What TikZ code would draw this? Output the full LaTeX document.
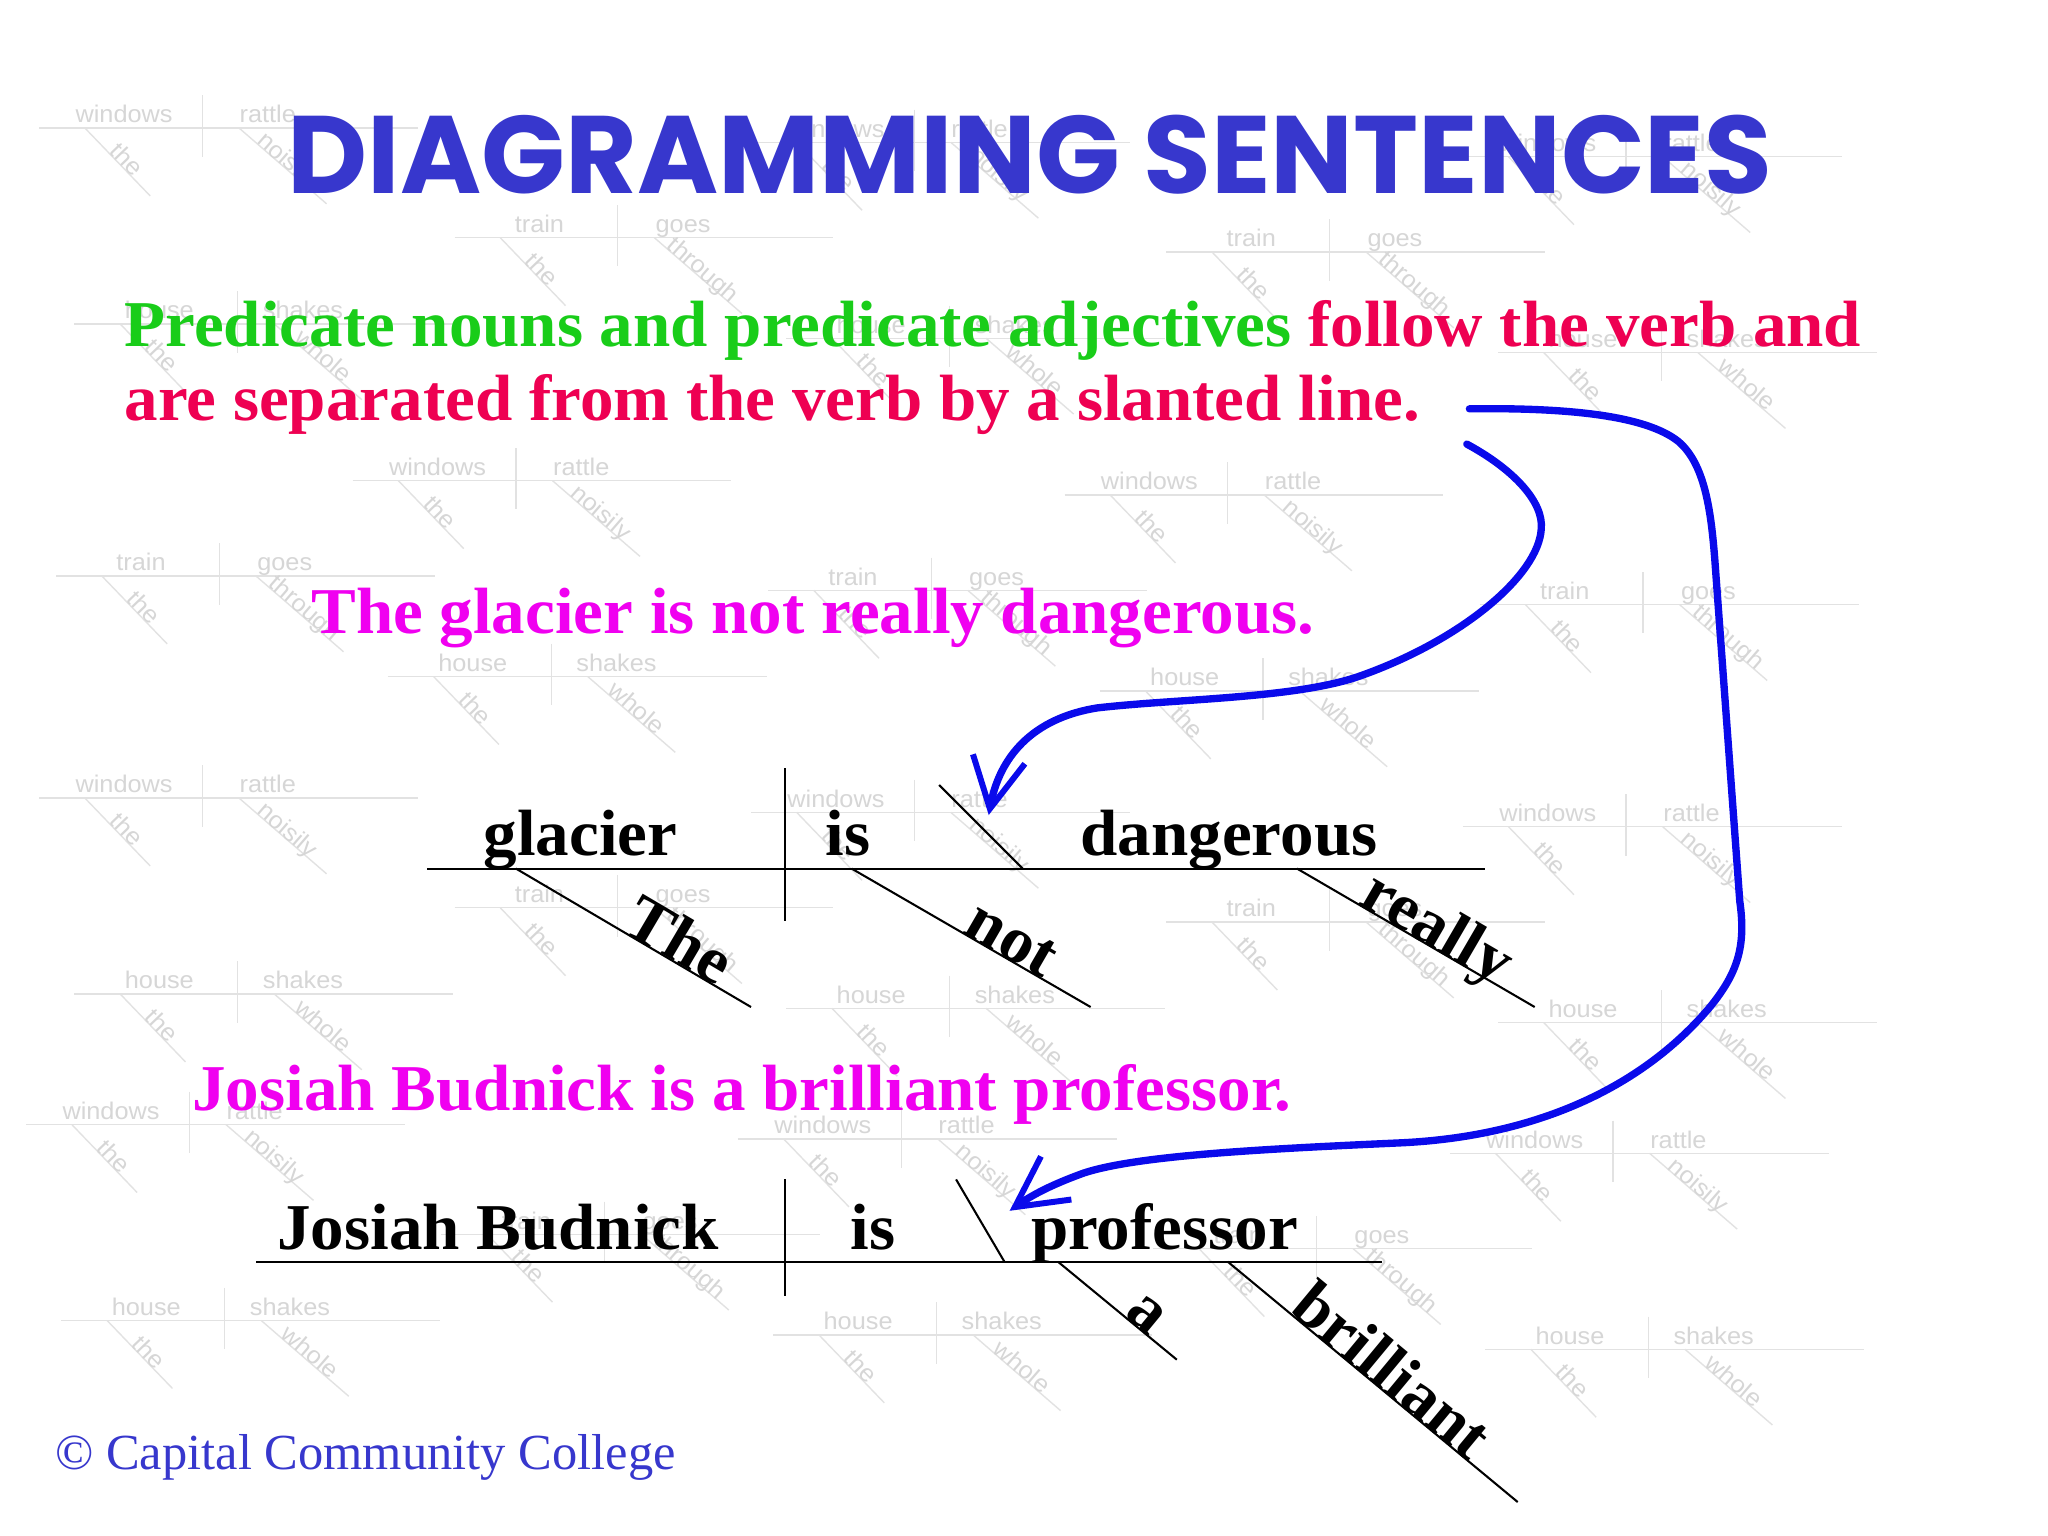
\documentclass[tikz,border=0pt]{standalone}
\usepackage{fontspec}
\setmainfont{Liberation Serif}
\newfontfamily\titlefont{Poppins}
\newfontfamily\markfont{Liberation Sans}
\usetikzlibrary{arrows.meta,positioning}

\definecolor{titleblue}{RGB}{55,55,205}
\definecolor{predgreen}{RGB}{25,205,25}
\definecolor{rulered}{RGB}{238,0,82}
\definecolor{samplepink}{RGB}{240,0,240}
\definecolor{arrowblue}{RGB}{10,10,235}
\definecolor{markgray}{RGB}{226,226,226}
\definecolor{markink}{RGB}{214,214,214}

\tikzset{
  bigword/.style={font=\bfseries\fontsize{28.5}{32}\selectfont, inner sep=0pt, xscale=1.025},
  markword/.style={font=\markfont\fontsize{10.5}{11}\selectfont, text=markink, inner sep=0pt, xscale=1.05},
  markline/.style={draw=markgray, line width=0.6pt},
  diagline/.style={line width=0.9pt},
  bluearrow/.style={draw=arrowblue, line width=3.2pt, line cap=round,
    -{Straight Barb[length=22pt,width=23pt,line width=2.6pt]}},
}

% faint sentence diagram used as the backdrop
\newcommand\markdiag[6]{%
  \begin{scope}[shift={(#1,#2)}]
    \draw[markline] (-125,0) -- (165,0);
    \draw[markline] (0,-25) -- (0,22);
    \node[markword,anchor=base] at (-60,-4) {#3};
    \node[markword,anchor=base] at (50,-4) {#4};
    \draw[markline] (-90,0) -- node[markword,sloped,anchor=base,pos=0.55] {#5} (-40,52);
    \draw[markline] (28,0) -- node[markword,sloped,anchor=base,pos=0.5] {#6} (95,58);
  \end{scope}}

\begin{document}
\begin{tikzpicture}[x=0.02cm,y=-0.02cm]

\fill[white] (0,0) rectangle (1568,1176);
\useasboundingbox (0,0) rectangle (1568,1176);

\foreach \rx/\ry in {95/90,-210/349,95/603,85/853,325/1119} {
  \foreach \k in {0,...,3} {
    \foreach \dx/\dy/\subj/\verb/\modA/\modB in {60/8/windows/rattle/the/noisily,
        -167/81/train/goes/the/through, 87/158/house/shakes/the/whole} {
      \pgfmathsetmacro\px{\rx+545*\k+\dx}
      \pgfmathsetmacro\py{\ry+11*\k+\dy}
      \pgfmathtruncatemacro\keep{and(and(\px>100,\px<1465),and(\py>25,\py<1116))}
      \ifnum\keep=1 \markdiag{\px}{\py}{\subj}{\verb}{\modA}{\modB}\fi
    }
  }
}

% heading and rule
\node[font=\titlefont\bfseries\fontsize{48}{50}\selectfont, text=titleblue,
  inner sep=0pt, anchor=base west] (title) at (220,148) {DIAGRAMMING SENTENCES};

\node[bigword, anchor=base west] (rule1) at (95,265)
  {\textcolor{predgreen}{Predicate nouns and predicate adjectives} \textcolor{rulered}{follow the verb and}};
\node[bigword, anchor=base west, text=rulered] (rule2) at (95,322)
  {are separated from the verb by a slanted line.};

% first sentence
\node[bigword, anchor=base west, text=samplepink] (sent1) at (238,485)
  {The glacier is not really dangerous.};

\coordinate (b1w) at (327,665);
\coordinate (b1e) at (1137,665);
\coordinate (d1t) at (601,588);
\coordinate (d1b) at (601,705);
\coordinate (s1t) at (719,601);
\coordinate (s1b) at (783,665);
\draw[diagline] (b1w) -- (b1e);
\draw[diagline] (d1t) -- (d1b);
\draw[diagline] (s1t) -- (s1b);

\node[bigword, anchor=base west] (glacier) at (370,655) {glacier};
\node[bigword, anchor=base west] (is1) at (632,655) {is};
\node[bigword, anchor=base west] (dangerous) at (827,655) {dangerous};

\coordinate (m1a) at (395,665);  \coordinate (m1b) at (575,771);
\coordinate (m2a) at (652,665);  \coordinate (m2b) at (835,771);
\coordinate (m3a) at (993,665);  \coordinate (m3b) at (1175,771);
\draw[diagline] (m1a) -- node[bigword,sloped,anchor=base,pos=0.65] (the) {The} (m1b);
\draw[diagline] (m2a) -- node[bigword,sloped,anchor=base,pos=0.63] (not) {not} (m2b);
\draw[diagline] (m3a) -- node[bigword,sloped,anchor=base,pos=0.55] (really) {really} (m3b);

% second sentence
\node[bigword, anchor=base west, text=samplepink] (sent2) at (147,850)
  {Josiah Budnick is a brilliant professor.};

\coordinate (b2w) at (196,966);
\coordinate (b2e) at (1058,966);
\coordinate (d2t) at (601,903);
\coordinate (d2b) at (601,992);
\coordinate (s2t) at (732,903);
\coordinate (s2b) at (769,966);
\draw[diagline] (b2w) -- (b2e);
\draw[diagline] (d2t) -- (d2b);
\draw[diagline] (s2t) -- (s2b);

\node[bigword, anchor=base west] (josiah) at (212,957) {Josiah Budnick};
\node[bigword, anchor=base west] (is2) at (651,957) {is};
\node[bigword, anchor=base west] (professor) at (789,957) {professor};

\coordinate (m4a) at (810,966);  \coordinate (m4b) at (901,1041);
\coordinate (m5a) at (940,966);  \coordinate (m5b) at (1162,1150);
\draw[diagline] (m4a) -- node[bigword,sloped,anchor=base,pos=0.66] (a) {a} (m4b);
\draw[diagline] (m5a) -- node[bigword,sloped,anchor=base,pos=0.52] (brilliant) {brilliant} (m5b);

% arrows from the rule to the slanted lines
\coordinate (start1) at (1123,340);
\coordinate (start2) at (1125,313);
\coordinate (tip1) at (757,624);
\coordinate (tip2) at (773,927);

\draw[bluearrow] (start1) .. controls (1160,360) and (1182,385) .. (1180,405)
  .. controls (1178,440) and (1120,490) .. (1040,518)
  .. controls (990,535) and (900,535) .. (840,542)
  .. controls (790,550) and (765,580) .. (tip1);

\draw[bluearrow] (start2) .. controls (1200,312) and (1260,318) .. (1285,338)
  .. controls (1305,355) and (1310,390) .. (1313,430)
  -- (1332,690)
  .. controls (1337,725) and (1330,745) .. (1310,770)
  .. controls (1260,830) and (1180,870) .. (1072,875)
  .. controls (960,880) and (870,885) .. (830,898)
  .. controls (805,907) and (790,915) .. (tip2);

\node[font=\fontsize{22}{24}\selectfont, text=titleblue, inner sep=0pt,
  anchor=base west] (credit) at (42,1125) {© Capital Community College};

\end{tikzpicture}
\end{document}
